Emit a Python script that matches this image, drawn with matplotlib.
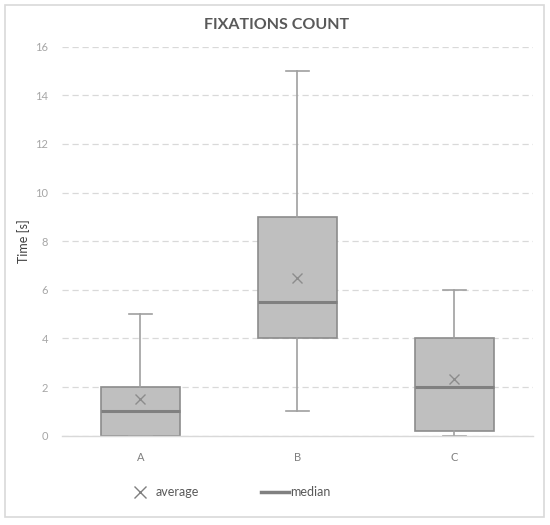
import matplotlib
matplotlib.use("Agg")
import matplotlib.pyplot as plt
from matplotlib.lines import Line2D
from matplotlib.patches import Rectangle

categories = ["A", "B", "C"]
whisker_low = [0, 1, 0]
q1 = [0, 4, 0.2]
medians = [1, 5.5, 2]
q3 = [2, 9, 4]
whisker_high = [5, 15, 6]
means = [1.5, 6.5, 2.33]
y_ticks = [0, 2, 4, 6, 8, 10, 12, 14, 16]

plt.rcParams['font.family'] = ['Lato', 'DejaVu Sans']

fig = plt.figure(figsize=(5.5, 5.25), dpi=100)
ax = fig.add_axes([0.1127, 0.170, 0.856, 0.741])

stats = []
for i, c in enumerate(categories):
    stats.append(dict(label=c, whislo=whisker_low[i], q1=q1[i], med=medians[i],
                      q3=q3[i], whishi=whisker_high[i], mean=means[i], fliers=[]))

ax.bxp(stats, positions=range(len(categories)), widths=0.5, patch_artist=True,
       showmeans=True, showfliers=False,
       boxprops=dict(facecolor="#bfbfbf", edgecolor="#8c8c8c", linewidth=1.2),
       medianprops=dict(color="#808080", linewidth=2.2),
       whiskerprops=dict(color="#a0a0a0", linewidth=1.2),
       capprops=dict(color="#a0a0a0", linewidth=1.2),
       capwidths=0.15,
       meanprops=dict(marker="x", markeredgecolor="#8c8c8c", markerfacecolor="#8c8c8c",
                      markersize=7, markeredgewidth=1.0))

ax.set_xlim(-0.5, 2.5)
ax.set_ylim(0, 16)
ax.set_yticks(y_ticks)
ax.set_yticklabels([str(t) for t in y_ticks])
ax.yaxis.grid(True, linestyle=(0, (5, 3)), color="#d9d9d9", linewidth=0.9)
ax.set_axisbelow(True)
for s in ["left", "right", "top"]:
    ax.spines[s].set_visible(False)
ax.spines["bottom"].set_color("#d9d9d9")
ax.spines["bottom"].set_linewidth(1.0)
ax.tick_params(axis="both", length=0, colors="#a6a6a6", labelsize=8)
ax.tick_params(axis="x", colors="#7f7f7f", pad=12)
ax.tick_params(axis="y", pad=10)
ax.set_ylabel("Time [s]", color="#404040", fontsize=9)
ax.yaxis.set_label_coords(-0.068, 0.5)

fig.text(0.502, 0.952, "FIXATIONS COUNT", ha="center", va="center",
         fontsize=11.5, fontweight="bold", color="#595959")

handles = [Line2D([], [], linestyle="none", marker="x", markersize=9,
                  markeredgecolor="#7f7f7f", markeredgewidth=1.0),
           Line2D([], [], color="#808080", linewidth=2.5)]
leg = fig.legend(handles, ["average", "median"], loc="center",
                 bbox_to_anchor=(0.415, 0.062), ncol=2, frameon=False,
                 fontsize=9, labelcolor="#595959", handlelength=2.2,
                 columnspacing=5, handletextpad=0.1)

fig.patches.append(Rectangle((0.009, 0.015), 0.98, 0.975, transform=fig.transFigure,
                             fill=False, edgecolor="#d9d9d9", linewidth=1.2))

fig.savefig("out.png", dpi=100, facecolor="white")
